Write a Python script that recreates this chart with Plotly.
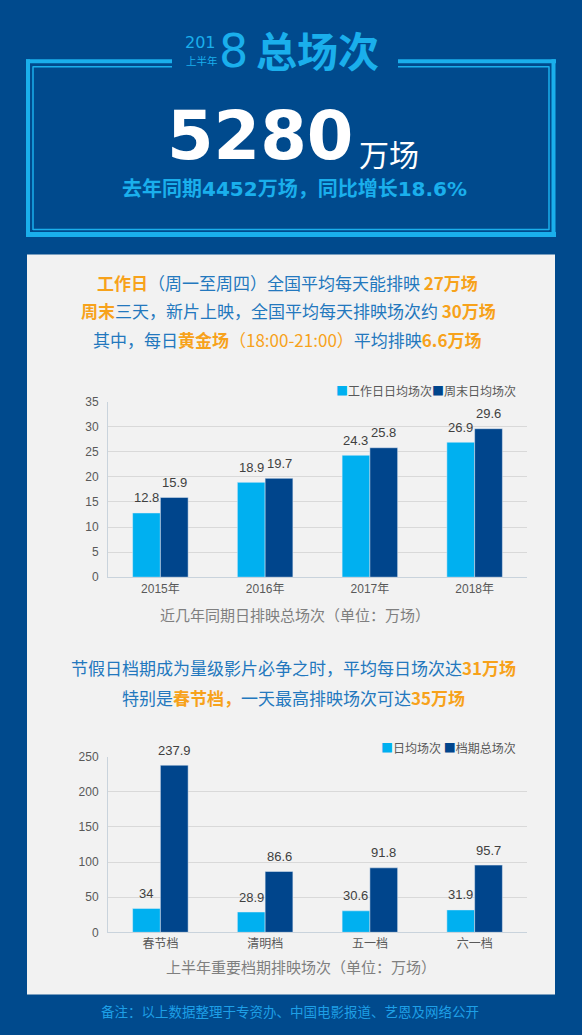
import plotly.graph_objects as go

W, H = 582, 1035

# chart 1: 近几年同期日排映总场次
years = ["2015年", "2016年", "2017年", "2018年"]
weekday_avg = [12.8, 18.9, 24.3, 26.9]
weekend_avg = [15.9, 19.7, 25.8, 29.6]

# chart 2: 上半年重要档期排映场次
holidays = ["春节档", "清明档", "五一档", "六一档"]
holiday_daily = [34, 28.9, 30.6, 31.9]
holiday_total = [237.9, 86.6, 91.8, 95.7]

BG = "#004A8D"
CYAN = "#1AAFEC"
LIGHT_BAR = "#00B0F0"
DARK_BAR = "#00458C"
ORANGE = "#F7A21B"
BLUE_TXT = "#2378BE"
GRAY = "#595959"
CJK = "Noto Sans CJK SC"
NUM = "Liberation Sans, " + CJK


def X(px):
    return px / W


def Y(py):
    return 1 - py / H


fig = go.Figure()

series = [
    (years, weekday_avg, "工作日日均场次", LIGHT_BAR, "x", "y", -1),
    (years, weekend_avg, "周末日均场次", DARK_BAR, "x", "y", 1),
    (holidays, holiday_daily, "日均场次", LIGHT_BAR, "x2", "y2", -1),
    (holidays, holiday_total, "档期总场次", DARK_BAR, "x2", "y2", 1),
]

ann = []
for cats, vals, name, color, xa, ya, side in series:
    fig.add_trace(go.Bar(x=cats, y=vals, name=name, marker_color=color,
                         xaxis=xa, yaxis=ya, hoverinfo="skip", showlegend=False))
    # value labels float a little above each bar
    for c, v in zip(cats, vals):
        ann.append(dict(x=c, y=v, xref=xa, yref=ya, text=str(v), showarrow=False,
                        xshift=side * 13.9, yshift=15, yanchor="middle",
                        font=dict(family=NUM, size=13, color="#404040")))

axis_common = dict(showline=True, linecolor="#C9D3DC", linewidth=1, ticks="",
                   tickfont=dict(family=NUM, size=12, color=GRAY),
                   fixedrange=True)

shapes = []
# light grey content panel
shapes.append(dict(type="rect", xref="paper", yref="paper", x0=X(27), x1=X(555), y0=Y(1001), y1=Y(251),
                   fillcolor="#F2F2F2", line_width=0, layer="below"))


def hline(x0, x1, y, w):
    return dict(type="line", xref="paper", yref="paper", x0=X(x0), x1=X(x1), y0=Y(y), y1=Y(y),
                line=dict(color=CYAN, width=w))


def vline(x, y0, y1, w):
    return dict(type="line", xref="paper", yref="paper", x0=X(x), x1=X(x), y0=Y(y0), y1=Y(y1),
                line=dict(color=CYAN, width=w))


# header frame: thick outer line + thin inner line, gap for the title
shapes += [
    hline(26, 172, 55, 4), hline(398, 556, 55, 4),
    hline(26, 556, 230.5, 5),
    vline(28, 53, 233, 4), vline(553.5, 53, 233, 4),
    hline(33, 172, 60.5, 1.5), hline(398, 549, 60.5, 1.5),
    hline(33, 549, 225.5, 1.5),
    vline(33, 60, 226, 1.5), vline(549, 60, 226, 1.5),
]


def text(px, py, s, size, color, family=CJK, xanchor="center", yanchor="middle", weight=None):
    f = dict(family=family, size=size, color=color)
    if weight:
        f["weight"] = weight
    ann.append(dict(x=X(px), y=Y(py), xref="paper", yref="paper", text=s, showarrow=False,
                    xanchor=xanchor, yanchor=yanchor, font=f))


def o(s):
    return f'<span style="color:{ORANGE}"><b>{s}</b></span>'


# header title
text(183, 36, "201", 16, CYAN, "DejaVu Sans", xanchor="left")
text(184, 54, "上半年", 10.5, CYAN, xanchor="left")
text(217, 45, "8", 46, CYAN, "DejaVu Sans", xanchor="left")
text(318, 43, "<b>总场次</b>", 41, CYAN)

text(260, 131, "<b>5280</b>", 67, "white", "DejaVu Sans")
text(389, 148, "万场", 30, "white")
text(294, 185, "<b>去年同期4452万场，同比增长18.6%</b>", 20, CYAN, "DejaVu Sans, " + CJK)

# intro lines
text(287, 279, o("工作日") + "（周一至周四）全国平均每天能排映 " + o("27万场"), 17, BLUE_TXT)
text(288, 308, o("周末") + "三天，新片上映，全国平均每天排映场次约 " + o("30万场"), 17, BLUE_TXT)
text(287, 337, "其中，每日" + o("黄金场") + f'<span style="color:{ORANGE}">（18:00-21:00）</span>'
     + "平均排映" + o("6.6万场"), 17, BLUE_TXT)

# chart 1 legend and caption
text(518, 389, f'<span style="color:{LIGHT_BAR}">■</span>工作日日均场次'
     f'<span style="color:{DARK_BAR}">■</span>周末日均场次', 12, GRAY, xanchor="right")
text(295, 616, "近几年同期日排映总场次（单位：万场）", 15, "#7F7F7F")

text(293, 670, "节假日档期成为量级影片必争之时，平均每日场次达" + o("31万场"), 17, BLUE_TXT)
text(293, 700, "特别是" + o("春节档，") + "一天最高排映场次可达" + o("35万场"), 17, BLUE_TXT)

# chart 2 legend and caption
text(518, 751, f'<span style="color:{LIGHT_BAR}">■</span>日均场次 '
     f'<span style="color:{DARK_BAR}">■</span>档期总场次', 12, GRAY, xanchor="right")
text(301, 973, "上半年重要档期排映场次（单位：万场）", 15, "#7F7F7F")

text(290, 1018, "备注：以上数据整理于专资办、中国电影报道、艺恩及网络公开", 13.5, "#1E9FE6")

fig.update_layout(
    width=W, height=H,
    margin=dict(l=0, r=0, t=0, b=0),
    paper_bgcolor=BG, plot_bgcolor="rgba(0,0,0,0)",
    barmode="group", bargap=0.47, bargroupgap=0,
    showlegend=False,
    xaxis=dict(domain=[X(108), X(527)], anchor="y", **axis_common),
    yaxis=dict(domain=[Y(578), Y(400)], anchor="x", range=[0, 35], dtick=5,
               showgrid=True, gridcolor="#D9D9D9", zeroline=False, ticklabelstandoff=6, **axis_common),
    xaxis2=dict(domain=[X(108), X(527)], anchor="y2", **axis_common),
    yaxis2=dict(domain=[Y(938), Y(760)], anchor="x2", range=[0, 250], dtick=50,
                showgrid=True, gridcolor="#D9D9D9", zeroline=False, ticklabelstandoff=6, **axis_common),
    shapes=shapes,
    annotations=ann,
)

fig.write_html("out.html", config={"displayModeBar": False},
               post_script="document.body.style.margin='0';")
